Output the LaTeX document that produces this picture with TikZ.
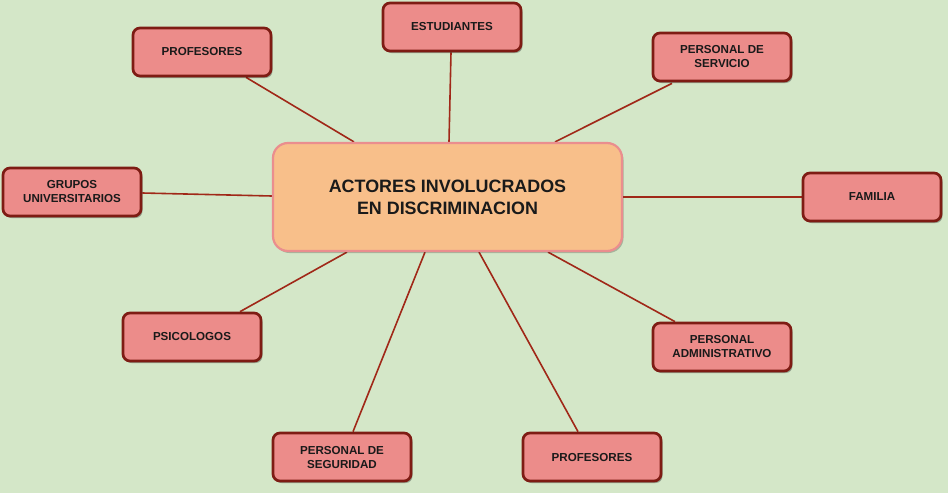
\documentclass[tikz,border=0pt]{standalone}
\usepackage{fontspec}
\setmainfont{Liberation Sans}
\usetikzlibrary{calc,shadows}
\pgfdeclarelayer{bg}
\pgfsetlayers{bg,main}
\definecolor{bgc}{HTML}{D4E7C8}
\definecolor{boxfill}{HTML}{EC8C8A}
\definecolor{boxline}{HTML}{7E1C14}
\definecolor{cfill}{HTML}{F8BF8A}
\definecolor{cline}{HTML}{EA8E8E}
\definecolor{conn}{HTML}{A02818}
\definecolor{txt}{HTML}{1A1A1A}
\begin{document}
\begin{tikzpicture}[x=1pt,y=-1pt,
  outer/.style={draw=boxline,line width=2.7pt,fill=boxfill,rounded corners=7pt,
    minimum width=138pt,minimum height=48pt,inner sep=0pt,align=center,
    text=txt,font=\bfseries\fontsize{11.6}{14}\selectfont,
    drop shadow={shadow xshift=1.5pt,shadow yshift=-2pt,opacity=.3,fill=black}},
  center/.style={draw=cline,line width=2.2pt,fill=cfill,rounded corners=15pt,
    minimum width=349pt,minimum height=108pt,inner sep=0pt,align=center,
    text=txt,font=\bfseries\fontsize{17.9}{22}\selectfont,
    drop shadow={shadow xshift=1.5pt,shadow yshift=-2pt,opacity=.22,fill=black}},
  link/.style={draw=conn,line width=1.6pt}]
\begin{pgfonlayer}{bg}
\fill[bgc] (0,0) rectangle (948,493);
\end{pgfonlayer}
\useasboundingbox (0,0) rectangle (948,493);
\node[center] (c) at (447.5,197) {ACTORES INVOLUCRADOS\\EN DISCRIMINACION};
\node[outer] (p1) at (202,52) {PROFESORES};
\node[outer] (est) at (452,27) {ESTUDIANTES};
\node[outer] (serv) at (722,57) {PERSONAL DE\\SERVICIO};
\node[outer] (grp) at (72,192) {GRUPOS\\UNIVERSITARIOS};
\node[outer] (fam) at (872,197) {FAMILIA};
\node[outer] (psi) at (192,337) {PSICOLOGOS};
\node[outer] (adm) at (722,347) {PERSONAL\\ADMINISTRATIVO};
\node[outer] (seg) at (342,457) {PERSONAL DE\\SEGURIDAD};
\node[outer] (p2) at (592,457) {PROFESORES};
\begin{pgfonlayer}{bg}
\draw[link] ($(p1.south)+(44,0)$) -- ($(c.north)+(-93.5,0)$);
\draw[link] ($(est.south)+(-1,0)$) -- ($(c.north)+(1.5,0)$);
\draw[link] ($(serv.south)+(-50,1)$) -- ($(c.north)+(107.5,0)$);
\draw[link] ($(grp.east)+(0,1)$) -- ($(c.west)+(0,-1)$);
\draw[link] (fam.west) -- (c.east);
\draw[link] ($(psi.north)+(48,0)$) -- ($(c.south)+(-100.5,0)$);
\draw[link] ($(adm.north)+(-47,0)$) -- ($(c.south)+(100.5,0)$);
\draw[link] ($(seg.north)+(11,0)$) -- ($(c.south)+(-22.5,0)$);
\draw[link] ($(p2.north)+(-14,0)$) -- ($(c.south)+(31.5,0)$);
\end{pgfonlayer}
\end{tikzpicture}
\end{document}
